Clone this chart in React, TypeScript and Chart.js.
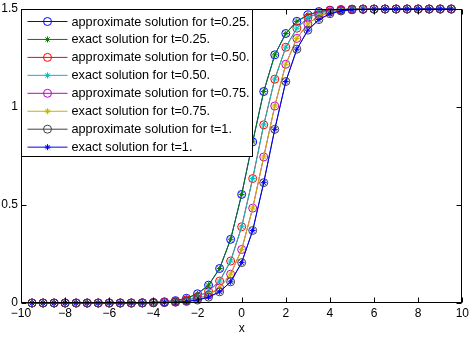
import React, { useEffect, useRef } from 'react';
import { Chart, registerables } from 'chart.js';

Chart.register(...registerables);

// x grid: -9.5 .. 9.5 step 0.5
const xValues = [
  -9.5, -9, -8.5, -8, -7.5, -7, -6.5, -6, -5.5, -5, -4.5, -4, -3.5, -3, -2.5, -2, -1.5, -1, -0.5, 0,
  0.5, 1, 1.5, 2, 2.5, 3, 3.5, 4, 4.5, 5, 5.5, 6, 6.5, 7, 7.5, 8, 8.5, 9, 9.5,
];

const exactT025 = [
  0, 0, 0, 0, 0, 0, 0, 0, 0, 0, 0.001, 0.003, 0.006, 0.012, 0.024, 0.047, 0.091, 0.176, 0.325, 0.554,
  0.822, 1.079, 1.266, 1.375, 1.437, 1.47, 1.487, 1.494, 1.497, 1.499, 1.5, 1.5, 1.5, 1.5, 1.5, 1.5, 1.5, 1.5, 1.5,
];
const exactT050 = [
  0, 0, 0, 0, 0, 0, 0, 0, 0, 0, 0.001, 0.002, 0.004, 0.008, 0.016, 0.031, 0.06, 0.112, 0.214, 0.389,
  0.635, 0.909, 1.142, 1.305, 1.402, 1.455, 1.48, 1.492, 1.497, 1.499, 1.5, 1.5, 1.5, 1.5, 1.5, 1.5, 1.5, 1.5, 1.5,
];
const exactT075 = [
  0, 0, 0, 0, 0, 0, 0, 0, 0, 0, 0, 0.001, 0.003, 0.005, 0.011, 0.021, 0.041, 0.078, 0.147, 0.273,
  0.484, 0.745, 1.005, 1.218, 1.35, 1.424, 1.465, 1.484, 1.493, 1.497, 1.499, 1.5, 1.5, 1.5, 1.5, 1.5, 1.5, 1.5, 1.5,
];
const exactT100 = [
  0, 0, 0, 0, 0, 0, 0, 0, 0, 0, 0, 0.001, 0.002, 0.004, 0.008, 0.015, 0.03, 0.057, 0.108, 0.206,
  0.37, 0.614, 0.886, 1.13, 1.295, 1.392, 1.446, 1.476, 1.49, 1.496, 1.498, 1.499, 1.5, 1.5, 1.5, 1.5, 1.5, 1.5, 1.5,
];
// approximate solutions coincide with the exact ones in the picture
const approxT025 = exactT025.slice();
const approxT050 = exactT050.slice();
const approxT075 = exactT075.slice();
const approxT100 = exactT100.slice();

const seriesLabels = [
  'approximate solution for t=0.25.',
  'exact solution for t=0.25.',
  'approximate solution for t=0.50.',
  'exact solution for t=0.50.',
  'approximate solution for t=0.75.',
  'exact solution for t=0.75.',
  'approximate solution for t=1.',
  'exact solution for t=1.',
];
const seriesValues = [approxT025, exactT025, approxT050, exactT050, approxT075, exactT075, approxT100, exactT100];
const seriesColors = ['#0000ff', '#007f00', '#ff0000', '#00bfbf', '#bf00bf', '#c8b400', '#404040', '#0000ff'];
const seriesMarkers = ['circle', 'star', 'circle', 'star', 'circle', 'star', 'circle', 'star'];

const xTicks = [-10, -8, -6, -4, -2, 0, 2, 4, 6, 8, 10];
const yTicks = [0, 0.5, 1, 1.5];

const FONT = 'Liberation Sans, Arial, Helvetica, sans-serif';

function drawMarker(ctx: CanvasRenderingContext2D, kind: string, x: number, y: number, color: string) {
  ctx.save();
  ctx.strokeStyle = color;
  ctx.lineWidth = 1;
  ctx.beginPath();
  if (kind === 'circle') {
    ctx.arc(x, y, 4, 0, Math.PI * 2);
  } else {
    const r = 3;
    ctx.moveTo(x - r, y); ctx.lineTo(x + r, y);
    ctx.moveTo(x, y - r); ctx.lineTo(x, y + r);
    const d = r * 0.707;
    ctx.moveTo(x - d, y - d); ctx.lineTo(x + d, y + d);
    ctx.moveTo(x - d, y + d); ctx.lineTo(x + d, y - d);
  }
  ctx.stroke();
  ctx.restore();
}

const matlabPlugin = {
  id: 'matlabBox',
  afterDraw(chart: any) {
    const { ctx, chartArea: a, scales } = chart;
    ctx.save();
    ctx.strokeStyle = '#000';
    ctx.lineWidth = 1;
    const L = Math.round(a.left) + 0.5;
    const R = Math.round(a.right) - 0.5;
    const T = Math.round(a.top) + 0.5;
    const B = Math.round(a.bottom) - 0.5;
    ctx.strokeRect(L, T, R - L, B - T);
    const tl = 5;
    ctx.beginPath();
    scales.x.ticks.forEach((t: any) => {
      const px = Math.round(scales.x.getPixelForValue(t.value)) + 0.5;
      ctx.moveTo(px, B); ctx.lineTo(px, B - tl);
      ctx.moveTo(px, T); ctx.lineTo(px, T + tl);
    });
    scales.y.ticks.forEach((t: any) => {
      const py = Math.round(scales.y.getPixelForValue(t.value)) + 0.5;
      ctx.moveTo(L, py); ctx.lineTo(L + tl, py);
      ctx.moveTo(R, py); ctx.lineTo(R - tl, py);
    });
    ctx.stroke();

    // legend inside the axes (top-left)
    ctx.font = `12.7px ${FONT}`;
    let maxW = 0;
    seriesLabels.forEach((s) => { maxW = Math.max(maxW, ctx.measureText(s).width); });
    const lx = L;
    const ly = T;
    const lw = Math.round(50 + maxW + 3);
    const lh = 147;
    ctx.fillStyle = '#fff';
    ctx.fillRect(lx, ly, lw, lh);
    ctx.strokeStyle = '#000';
    ctx.strokeRect(lx, ly, lw, lh);
    ctx.textBaseline = 'middle';
    ctx.textAlign = 'left';
    seriesLabels.forEach((s, i) => {
      const cy = ly + 12 + i * 17.95;
      const c = seriesColors[i];
      ctx.strokeStyle = c;
      ctx.beginPath();
      ctx.moveTo(lx + 6, cy); ctx.lineTo(lx + 46, cy);
      ctx.stroke();
      drawMarker(ctx, seriesMarkers[i], lx + 26, cy, c);
      ctx.fillStyle = '#000';
      ctx.fillText(s, lx + 50, cy + 0.5);
    });
    ctx.restore();
  },
};

const fmtTick = (v: any) => {
  const n = Number(v);
  return n < 0 ? '\u2212' + String(-n) : String(n);
};

export default function App() {
  const ref = useRef<HTMLCanvasElement | null>(null);
  useEffect(() => {
    document.body.style.margin = '0';
    const canvas = ref.current;
    if (!canvas) return;
    const datasets = seriesLabels.map((label, i) => ({
      label,
      data: xValues.map((x, j) => ({ x, y: seriesValues[i][j] })),
      borderColor: seriesColors[i],
      backgroundColor: seriesColors[i],
      borderWidth: 1,
      pointStyle: seriesMarkers[i],
      pointRadius: seriesMarkers[i] === 'circle' ? 4 : 3,
      pointBorderWidth: 1,
      pointBackgroundColor: seriesMarkers[i] === 'circle' ? 'rgba(0,0,0,0)' : seriesColors[i],
      pointBorderColor: seriesColors[i],
      tension: 0,
      clip: false as any,
      order: 8 - i,
    }));
    const chart = new Chart(canvas, {
      type: 'line',
      data: { datasets },
      options: {
        animation: false,
        responsive: false,
        layout: { padding: { top: 6, right: 8, left: 0, bottom: 0 } },
        plugins: { legend: { display: false }, tooltip: { enabled: false } },
        scales: {
          x: {
            type: 'linear',
            min: -10,
            max: 10,
            afterBuildTicks: (s: any) => { s.ticks = xTicks.map((v) => ({ value: v })); },
            afterFit: (s: any) => { s.height = 34; },
            grid: { display: false, drawTicks: false },
            border: { display: false },
            ticks: {
              color: '#000',
              font: { family: FONT, size: 12, lineHeight: 1 },
              padding: 5,
              maxRotation: 0,
              autoSkip: false,
              callback: fmtTick,
            },
            title: {
              display: true,
              text: 'x',
              color: '#000',
              font: { family: FONT, size: 12 },
              padding: { top: 0, bottom: 1 },
            },
          },
          y: {
            type: 'linear',
            min: 0,
            max: 1.5,
            afterBuildTicks: (s: any) => { s.ticks = yTicks.map((v) => ({ value: v })); },
            afterFit: (s: any) => { s.width = 21; },
            grid: { display: false, drawTicks: false },
            border: { display: false },
            ticks: {
              color: '#000',
              font: { family: FONT, size: 12, lineHeight: 1 },
              padding: 3,
              autoSkip: false,
              callback: fmtTick,
            },
          },
        },
      },
      plugins: [matlabPlugin],
    });
    return () => chart.destroy();
  }, []);
  return <canvas ref={ref} width={474} height={337} style={{ display: 'block' }} />;
}
